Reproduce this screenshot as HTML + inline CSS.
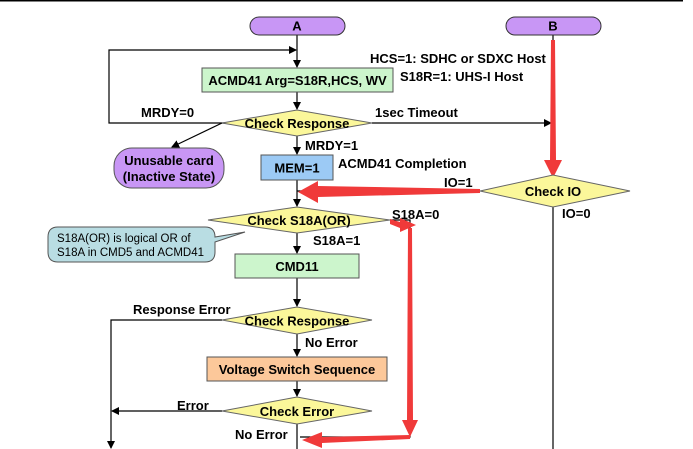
<!DOCTYPE html>
<html><head><style>
html,body{margin:0;padding:0;background:#fff;}
svg{display:block;font-family:"Liberation Sans",Arial,sans-serif;font-weight:bold;}
</style></head><body>
<svg width="693" height="449" viewBox="0 0 693 449" xmlns="http://www.w3.org/2000/svg">
<defs>
<marker id="ab" markerWidth="8" markerHeight="8" refX="7" refY="4" orient="auto" markerUnits="userSpaceOnUse"><path d="M0,0 L8,4 L0,8 z" fill="#000"/></marker>
</defs>
<line x1="0" y1="0.5" x2="683" y2="0.5" stroke="#000" stroke-width="2"/>
<g stroke="#000" stroke-width="1.2" fill="none">
<line x1="297" y1="35" x2="297" y2="67" marker-end="url(#ab)"/>
<polyline points="297,123 109,123 109,50 296,50" marker-end="url(#ab)"/>
<line x1="297" y1="92" x2="297" y2="109" marker-end="url(#ab)"/>
<line x1="372" y1="123" x2="551" y2="123" marker-end="url(#ab)"/>
<line x1="222" y1="123" x2="172" y2="147" marker-end="url(#ab)"/>
<line x1="297" y1="136" x2="297" y2="154" marker-end="url(#ab)"/>
<line x1="297" y1="180" x2="297" y2="206" marker-end="url(#ab)"/>
<line x1="297" y1="233" x2="297" y2="253" marker-end="url(#ab)"/>
<line x1="297" y1="278" x2="297" y2="306" marker-end="url(#ab)"/>
<line x1="297" y1="334" x2="297" y2="356" marker-end="url(#ab)"/>
<line x1="297" y1="381" x2="297" y2="396" marker-end="url(#ab)"/>
<line x1="297" y1="424" x2="297" y2="449"/>
<polyline points="222,320 111,320 111,448" marker-end="url(#ab)"/>
<line x1="222" y1="411" x2="112" y2="411" marker-end="url(#ab)"/>
<line x1="553" y1="207" x2="553" y2="449"/>
<line x1="553" y1="35" x2="553" y2="175"/>
<line x1="480" y1="191" x2="297" y2="191"/>
<polyline points="390,220 410,220 410,437 300,437"/>
</g>
<g fill="#f03a3a" stroke="none">
<polygon points="551,40 555,40 556,160 562,160 553,178 544,160 550,160"/>
<polygon points="480,189 480,193 318,197 318,203 298,192 318,181 318,186"/>
<polygon points="390,219 400,222 400,218 416,225 400,232 400,228 390,224"/>
<polygon points="408,228 412,228 413,420 418,420 410,437 402,420 407,420"/>
<polygon points="410,435 410,439 322,443 322,448 302,440 322,432 322,437"/>
</g>
<g font-size="13">
<rect x="250" y="17" width="95" height="18" rx="9" fill="#c896f5" stroke="#333"/>
<text x="297" y="30.5" text-anchor="middle">A</text>
<rect x="506" y="17" width="95" height="18" rx="9" fill="#c896f5" stroke="#333"/>
<text x="553" y="30.5" text-anchor="middle">B</text>
<rect x="202" y="68" width="191" height="24" fill="#ccf5cc" stroke="#555"/>
<text x="297.5" y="85" text-anchor="middle">ACMD41 Arg=S18R,HCS, WV</text>
<polygon points="222,123 297,110 372,123 297,136" fill="#fbf79a" stroke="#666"/>
<text x="297" y="128" text-anchor="middle">Check Response</text>
<rect x="114" y="148" width="110" height="40" rx="18" fill="#c896f5" stroke="#555"/>
<text x="169" y="165" text-anchor="middle">Unusable card</text>
<text x="169" y="181" text-anchor="middle">(Inactive State)</text>
<rect x="261" y="155" width="72" height="25" fill="#9ccaf5" stroke="#555"/>
<text x="297" y="172.5" text-anchor="middle">MEM=1</text>
<polygon points="480,191 553,175 630,191 553,207" fill="#fbf79a" stroke="#666"/>
<text x="553" y="196" text-anchor="middle">Check IO</text>
<polygon points="208,220 297,207 390,220 297,233" fill="#fbf79a" stroke="#666"/>
<text x="299" y="225" text-anchor="middle">Check S18A(OR)</text>
<path d="M58,227 H205 Q215,227 215,237 L245,232 L215,242 V252 Q215,262 205,262 H58 Q48,262 48,252 V237 Q48,227 58,227 Z" fill="#b9dde3" stroke="#555"/>
<text x="57" y="242" font-size="11.5" font-weight="normal">S18A(OR) is logical OR of</text>
<text x="57" y="256" font-size="11.5" font-weight="normal">S18A in CMD5 and ACMD41</text>
<rect x="235" y="254" width="124" height="24" fill="#ccf5cc" stroke="#555"/>
<text x="297" y="271" text-anchor="middle">CMD11</text>
<polygon points="222,320 297,307 372,320 297,334" fill="#fbf79a" stroke="#666"/>
<text x="297" y="325.5" text-anchor="middle">Check Response</text>
<rect x="207" y="357" width="180" height="24" fill="#fcc89a" stroke="#555"/>
<text x="297" y="374" text-anchor="middle">Voltage Switch Sequence</text>
<polygon points="222,411 297,397 372,411 297,424" fill="#fbf79a" stroke="#666"/>
<text x="297" y="416" text-anchor="middle">Check Error</text>
<text x="370" y="63">HCS=1: SDHC or SDXC Host</text>
<text x="400" y="81">S18R=1: UHS-I Host</text>
<text x="141" y="117">MRDY=0</text>
<text x="375" y="117">1sec Timeout</text>
<text x="305" y="150">MRDY=1</text>
<text x="338" y="168">ACMD41 Completion</text>
<text x="444" y="187">IO=1</text>
<text x="392" y="219">S18A=0</text>
<text x="562" y="218">IO=0</text>
<text x="313" y="245">S18A=1</text>
<text x="133" y="314">Response Error</text>
<text x="305" y="347">No Error</text>
<text x="177" y="410">Error</text>
<text x="235" y="439">No Error</text>
</g>
</svg>
</body></html>
